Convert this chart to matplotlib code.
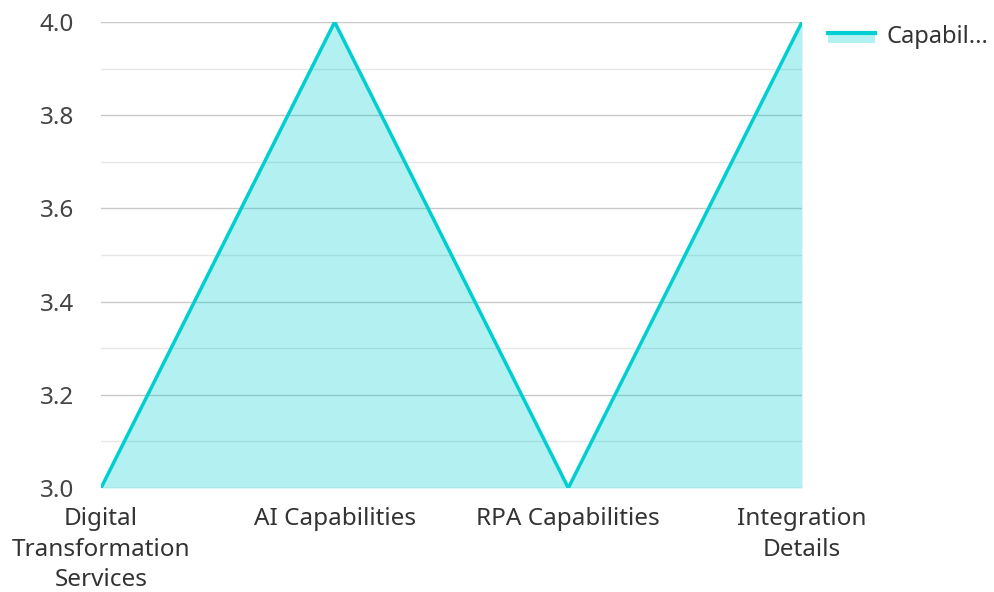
import matplotlib.pyplot as plt
from matplotlib.patches import Rectangle
from matplotlib.lines import Line2D
from matplotlib.legend_handler import HandlerBase
from matplotlib.ticker import MultipleLocator

plt.rcParams['font.family'] = ['Noto Sans', 'DejaVu Sans']

# datos del gráfico
categorias = ['Digital\nTransformation\nServices', 'AI Capabilities',
              'RPA Capabilities', 'Integration\nDetails']
valores = [3, 4, 3, 4]
etiqueta_serie = 'Capabil...'

color_linea = '#00CED1'
tam_fuente = 17.5


# manejador de leyenda: línea arriba, relleno debajo
class HandlerArea(HandlerBase):
    def create_artists(self, legend, orig_handle, xdescent, ydescent,
                       width, height, fontsize, trans):
        y_base = -ydescent + height * 0.1
        y_linea = -ydescent + height * 0.6
        rect = Rectangle((-xdescent, y_base), width, y_linea - y_base,
                         facecolor=color_linea, alpha=0.3, edgecolor='none',
                         transform=trans)
        linea = Line2D([-xdescent, -xdescent + width], [y_linea, y_linea],
                       color=color_linea, linewidth=3, transform=trans)
        return [rect, linea]


fig = plt.figure(figsize=(9.94, 5.92), dpi=100)
ax = fig.add_axes([0.1016, 0.1757, 0.7052, 0.7871])

x = list(range(len(categorias)))
ax.fill_between(x, 3.0, valores, color=color_linea, alpha=0.3, zorder=3, linewidth=0)
ax.plot(x, valores, color=color_linea, linewidth=2.5, zorder=4)

ax.set_xlim(0, len(categorias) - 1)
ax.set_ylim(3.0, 4.0)
ax.yaxis.set_major_locator(MultipleLocator(0.2))
ax.yaxis.set_minor_locator(MultipleLocator(0.1))
ax.grid(which='major', axis='y', color='#c8c8c8', linewidth=1)
ax.grid(which='minor', axis='y', color='#e6e6e6', linewidth=1)
ax.set_axisbelow(True)

ax.set_xticks(x)
ax.set_xticklabels(categorias, fontsize=tam_fuente, color='#333333', linespacing=1.36)
ax.set_yticks([3.0, 3.2, 3.4, 3.6, 3.8, 4.0])
ax.set_yticklabels(['3.0', '3.2', '3.4', '3.6', '3.8', '4.0'], fontsize=tam_fuente, color='#444444')
ax.tick_params(axis='both', which='both', length=0)
ax.tick_params(axis='y', pad=19.5)
ax.tick_params(axis='x', pad=14)

for s in ax.spines.values():
    s.set_visible(False)

# leyenda a la derecha
leg = fig.legend([object()], [etiqueta_serie], loc='upper left',
                 bbox_to_anchor=(0.828, 0.966), frameon=False, fontsize=17,
                 handlelength=2.0, handleheight=0.9, handletextpad=0.5,
                 borderpad=0.2, borderaxespad=0,
                 handler_map={object: HandlerArea()})
for t in leg.get_texts():
    t.set_color('#333333')

fig.savefig('out.png', dpi=100)
